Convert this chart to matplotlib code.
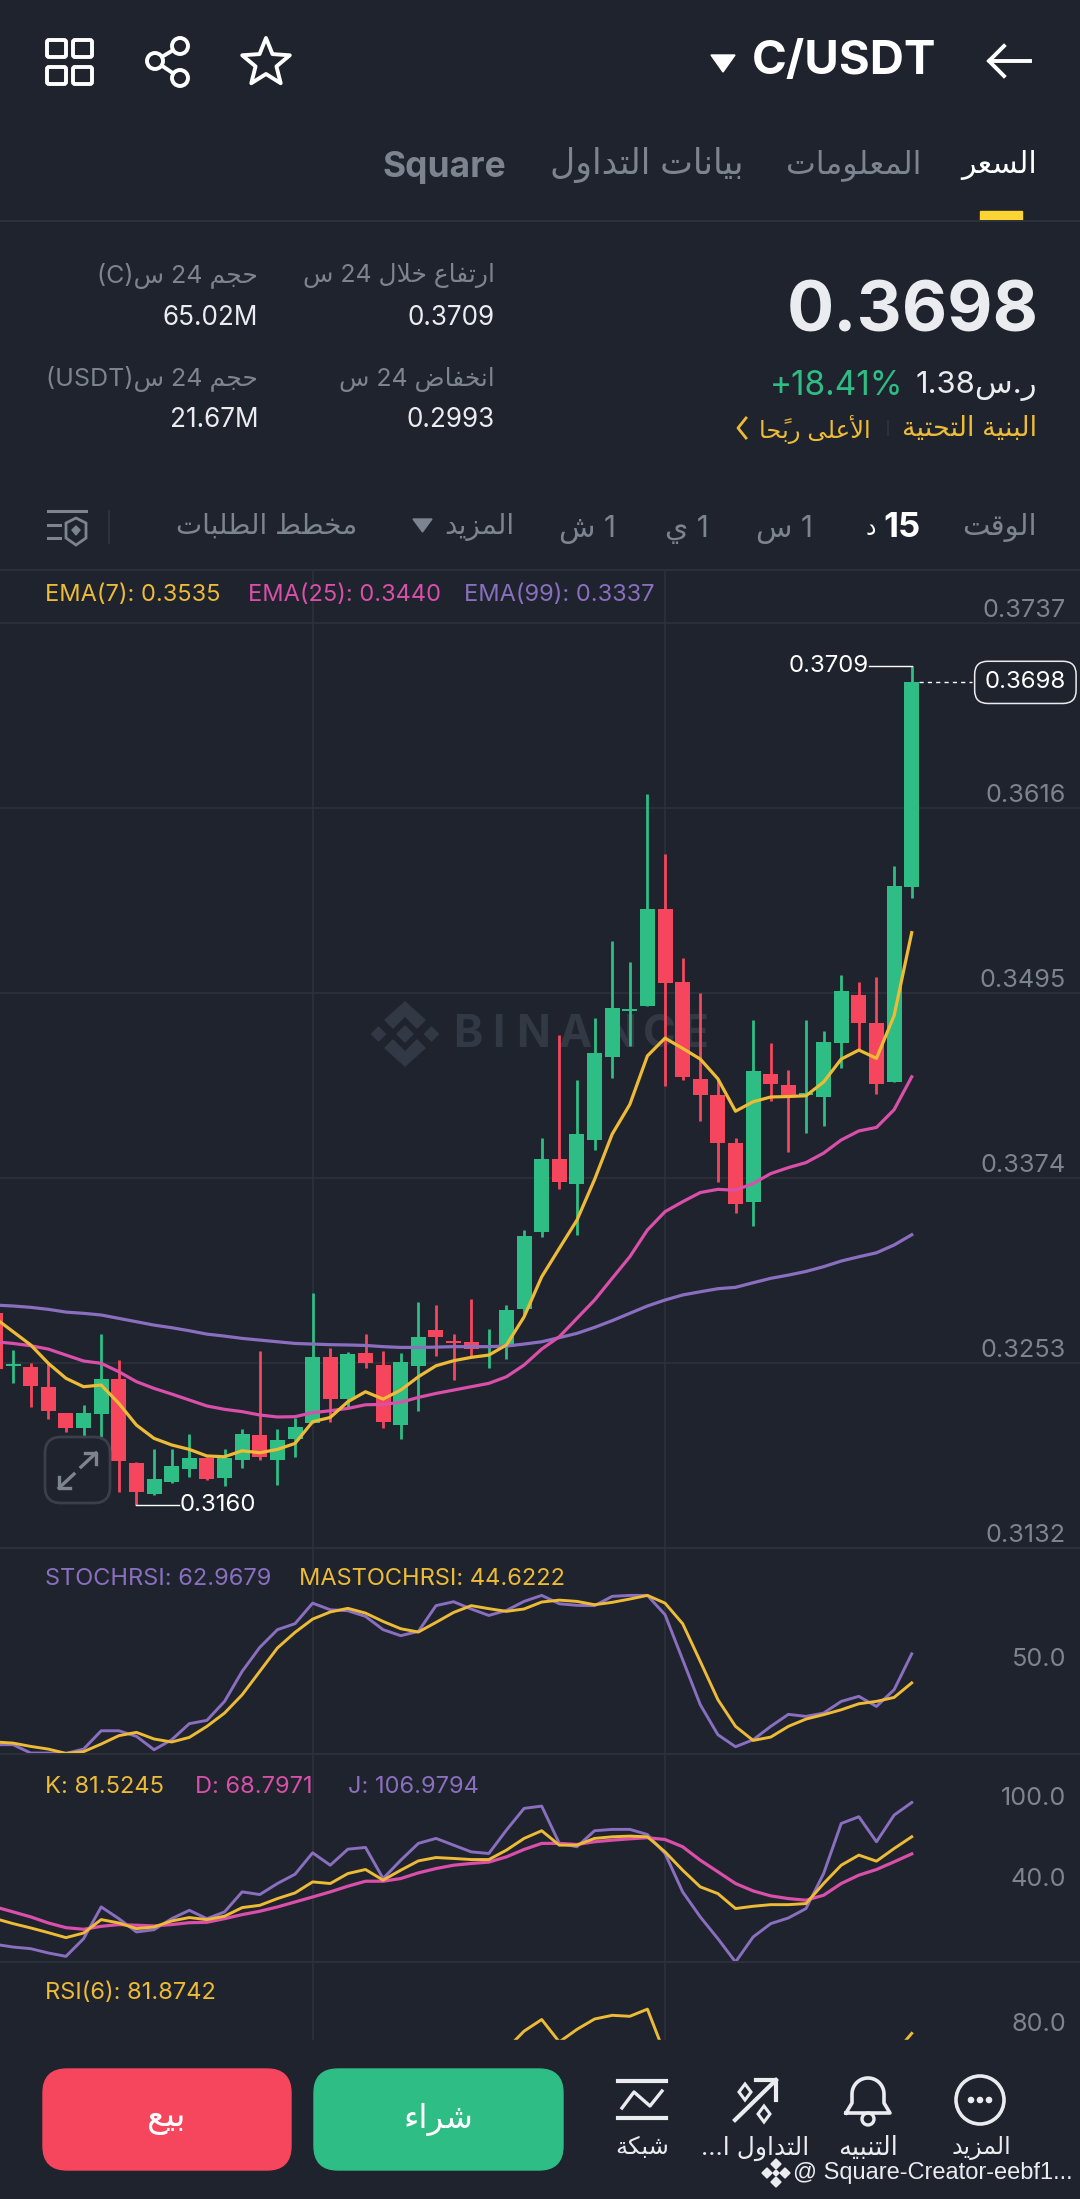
import re
import numpy as np
import matplotlib
matplotlib.use('Agg')
import matplotlib.pyplot as plt
from matplotlib.patches import FancyBboxPatch, Circle, Polygon, Rectangle

plt.rcParams['font.family'] = ['Inter', 'DejaVu Sans']

W, H = 1080, 2199
BG = '#1E232D'
GRID = '#2C313C'
GREEN = '#2EBD85'
RED = '#F6465D'
YELLOW = '#EDBB36'
PINK = '#D94FA9'
PURPLE = '#8A6FC0'
GREY = '#7D838F'
LIGHT = '#EAECEF'

# candles, first one is cut off by the left edge
OPENS = [.32857, .32508, .32504, .32373, .32203, .32103, .32196, .32423, .31872, .31671, .3175, .31837, .31904,
         .31776, .31893, .32055, .31893, .32033, .32138, .32565, .32295, .32595, .32515, .32125, .32506, .32744,
         .32667, .32663, .32625, .32635, .32879, .33387, .33865, .33702, .33989, .34529, .34829, .34862, .35498,
         .35017, .34387, .34278, .33968, .33581, .34418, .34348, .34278, .34271, .34619, .34937, .34749, .34369, .3564]
CLOSES = [.32486, .32513, .32377, .32216, .32103, .32203, .32423, .31885, .31684, .31771, .31854, .31904, .31771,
          .31904, .32063, .31915, .32024, .32111, .32565, .32295, .32587, .32526, .32144, .32532, .32696, .32696,
          .32658, .32619, .3263, .32874, .33358, .33865, .3371, .34025, .34555, .34847, .34835, .35498, .35012,
          .344, .34284, .33968, .33571, .34439, .34351, .34278, .34296, .3463, .3496, .34749, .34351, .35647, .3698]
HIGHS = [.3295, .32613, .32526, .32526, .32203, .32255, .32715, .32547, .31883, .31963, .31963, .32063, .31911,
         .31963, .32094, .32606, .32094, .32166, .32988, .32624, .32602, .32715, .32606, .32595, .32927, .32905,
         .32715, .32946, .32748, .32905, .33398, .33999, .34671, .34379, .34787, .35291, .35149, .36247, .35859,
         .3518, .34947, .34387, .33999, .34769, .34619, .34446, .34769, .34697, .35069, .3502, .35051, .35782, .3709]
LOWS = [.3238, .32395, .32242, .32162, .32077, .32042, .32042, .31684, .31597, .31665, .31741, .31784, .31763,
        .31723, .31843, .31893, .3173, .31915, .32138, .32144, .32242, .32497, .32103, .32033, .32214, .32574,
        .32417, .32569, .32497, .32554, .32845, .33349, .33669, .33367, .33922, .34392, .34599, .34862, .3434,
        .34382, .34108, .3371, .33509, .33421, .34242, .33909, .3403, .34077, .34459, .34581, .34289, .34369, .3557]

EMA7 = [.3282, .32733, .32646, .32526, .32428, .32373, .32384, .32264, .32122, .32035, .31992, .31963, .3192,
        .31915, .31954, .31941, .31963, .32002, .32144, .32172, .32275, .3234, .32292, .32351, .32438, .3251,
        .32543, .32565, .3258, .32646, .3283, .33092, .33278, .33463, .33728, .34025, .34219, .34537, .34653,
        .34586, .34516, .34387, .34175, .34237, .34268, .34271, .34276, .34366, .34516, .34575, .34521, .348, .35343]
EMA25 = [.32667, .32656, .32641, .32619, .3258, .32541, .32526, .32471, .32406, .32362, .32325, .32286, .32247,
         .32225, .3221, .32188, .32175, .32177, .32203, .32216, .32231, .32255, .32257, .32271, .32303, .32329,
         .32351, .32373, .32395, .32438, .32515, .32619, .327, .3282, .3294, .33082, .33223, .33398, .33518,
         .33583, .33643, .33664, .33658, .33702, .33767, .33806, .33839, .33901, .33987, .34046, .34069, .34185, .344]
EMA99 = [.32907, .32901, .32892, .32879, .32861, .32853, .32842, .3282, .32798, .32776, .32759, .32739, .32717,
         .32704, .32689, .32678, .32667, .32656, .32652, .32648, .32646, .32643, .32635, .3263, .3263, .32632,
         .32635, .32635, .32635, .32639, .32652, .32667, .32694, .32722, .32761, .32805, .32853, .32901, .3294,
         .32973, .32994, .33014, .33023, .33053, .33082, .33103, .33127, .33158, .33195, .33223, .33249, .333, .33367]

STOCH = [5.5, 5.5, .2, .2, 0, 2.7, 14.3, 14.3, 10.8, 2.3, 8.6, 18.8, 20.9, 32.9, 51.9, 67.1, 78.3, 82.1, 95.1, 90.9,
         90.3, 86.7, 78.3, 74.5, 77.2, 93.5, 96, 91.4, 87.3, 90.5, 96.2, 100, 94.7, 93.7, 93.5, 99.4, 100, 100, 87.8,
         59.3, 30.8, 11.8, 4.2, 8.6, 17.1, 24.7, 23.4, 25.5, 32.9, 36.1, 29.7, 40.3, 62.97]
MASTOCH = [7.2, 6.5, 4.4, 2.7, 0, 1.1, 5.9, 11.2, 13.3, 9.1, 7.2, 10.1, 17.1, 25.5, 37.1, 51.9, 66.7, 76.6, 85, 89.5,
           91.8, 88.8, 83.5, 78.9, 76.8, 82.9, 89.2, 93.5, 91.6, 89.9, 91.4, 95.8, 97, 96.2, 94.1, 95.6, 97.7, 100,
           95.1, 82.1, 58.2, 34, 17.1, 8.2, 10.3, 17.1, 21.7, 24.5, 27.6, 31.4, 32.9, 35.4, 44.62]
K = [20.7, 17, 13.8, 10.3, 6.6, 10, 20, 17.5, 13.3, 14.5, 19, 21.5, 20, 22.5, 28.9, 30.6, 35.6, 39.8, 48, 46.8, 54.2,
     57.2, 49.3, 56.7, 63.6, 66.1, 65.4, 64.6, 64.6, 71.6, 80.3, 86, 75.3, 75.3, 80.3, 81.5, 82, 81.5, 70.3, 56.7,
     44.3, 39.3, 28.2, 29.9, 31.1, 31.1, 31.9, 46.8, 60.4, 67.9, 63.4, 72.8, 81.52]
D = [29.4, 25.7, 22, 17.5, 14, 12.8, 15, 16.3, 15.8, 15.3, 16.3, 17.7, 18, 20.7, 23.7, 26.2, 29.4, 33.1, 36.8, 40.6,
     44.8, 48.5, 48.5, 50.5, 54.7, 57.9, 60.4, 61.7, 62.7, 66.6, 72.1, 76.6, 76.6, 75.8, 77.8, 79, 80, 80.8, 79.5,
     74.1, 64.1, 55.5, 46.8, 41.3, 37.6, 35.6, 34.4, 38.1, 46.8, 53, 57.2, 62.9, 68.8]
J = [1.6, -.4, -1.6, -4.8, -7.3, 5.8, 29.4, 20.7, 10.8, 12.5, 20.7, 26.9, 20.7, 25.7, 40.6, 38.6, 46.8, 53.7, 69.6,
     60.4, 72.3, 73.6, 50.5, 64.1, 76.6, 80.3, 75.3, 70.3, 69.1, 86.5, 102.6, 104.3, 76.6, 74.1, 86, 87, 87, 83.2,
     69.1, 40.6, 22, 5.8, -11.5, 7.1, 17, 21.2, 28.2, 54.2, 91.4, 96.4, 77.8, 97.6, 106.98]
# only the tail of RSI shows, the rest is under the bottom bar
RSI6 = [75.5, 82.8, 87.5, 78.4, 83.5, 87.7, 89.2, 88.8, 91.7, 73.3, 66, 60, 52, 47, 58, 60, 57, 56, 62, 68, 66, 58,
        73.5, 81.87]
RSI_START = 28

PRICE_TICKS = [.3737, .3616, .3495, .3374, .3253, .3132]
VERTICAL_GRID = [17, 37]

x_idx = np.arange(len(CLOSES)) - 1
X0 = -13.1 / 17.62
X1 = (W - 13.1) / 17.62


def ar(s):
    # matplotlib has no arabic shaping or bidi, so pick the presentation forms and reorder here
    dual = dict(zip('بتثجحخسشصضطظعغفقكلمنهي',
                    [0xFE8F, 0xFE95, 0xFE99, 0xFE9D, 0xFEA1, 0xFEA5, 0xFEB1, 0xFEB5, 0xFEB9, 0xFEBD, 0xFEC1,
                     0xFEC5, 0xFEC9, 0xFECD, 0xFED1, 0xFED5, 0xFED9, 0xFEDD, 0xFEE1, 0xFEE5, 0xFEE9, 0xFEF1]))
    right = dict(zip('آأؤإاةدذرزوى',
                     [0xFE81, 0xFE83, 0xFE85, 0xFE87, 0xFE8D, 0xFE93, 0xFEA9, 0xFEAB, 0xFEAD, 0xFEAF, 0xFEED, 0xFEEF]))
    lam = {'ا': 0xFEFB, 'أ': 0xFEF7, 'إ': 0xFEF9, 'آ': 0xFEF5}
    plain = r'0-9A-Za-z.,%+()'
    parts = []
    for tok in re.findall(r'[' + plain + r']+|\s+|[^' + plain + r'\s]+', s):
        if re.match(r'[' + plain + r'\s]', tok):
            parts.append(tok)
            continue
        letters = [c for c in tok if c != '\u064b']
        marks = {}
        n = 0
        for c in tok:
            if c == '\u064b':
                marks[n - 1] = c
            else:
                n += 1
        out = []
        prev = False
        i = 0
        while i < len(letters):
            c = letters[i]
            nxt = letters[i + 1] if i + 1 < len(letters) else ''
            if c == 'ل' and nxt and nxt in lam:
                out.append(chr(lam[nxt] + (1 if prev else 0)))
                prev = False
                i += 2
                continue
            if c in dual:
                joins = nxt != '' and (nxt in dual or nxt in right)
                off = {(False, False): 0, (True, False): 1, (False, True): 2, (True, True): 3}[(prev, joins)]
                out.append(chr(dual[c] + off) + marks.get(i, ''))
                prev = joins
            elif c in right:
                out.append(chr(right[c] + (1 if prev else 0)))
                prev = False
            else:
                out.append(c)
                prev = False
            i += 1
        parts.append(''.join(reversed(out)))
    return ''.join(reversed(parts))


fig = plt.figure(figsize=(W / 100, H / 100), dpi=100, facecolor=BG)


def px_axes(top, bottom, ylim, z=2):
    a = fig.add_axes([0, 1 - bottom / H, 1, (bottom - top) / H], zorder=z)
    a.set_xlim(X0, X1)
    a.set_ylim(*ylim)
    a.patch.set_alpha(0)
    a.axis('off')
    for v in VERTICAL_GRID:
        a.axvline(v, color=GRID, lw=1.2, zorder=0)
    return a


def tick_label(a, v, s, dy=12):
    a.annotate(s, xy=(1, v), xycoords=a.get_yaxis_transform(), xytext=(-14 * .72, dy * .72),
               textcoords='offset points', ha='right', va='center', color=GREY, fontsize=18.2, annotation_clip=False)


back = fig.add_axes([0, 0, 1, 1], zorder=1)
back.set_xlim(0, W)
back.set_ylim(H, 0)
back.axis('off')
# watermark
MARK = '#333944'
chevron = [(385, 1020), (405, 1002), (425, 1020), (417, 1028), (405, 1016), (393, 1028)]
back.add_patch(Polygon(chevron, color=MARK))
back.add_patch(Polygon([(px, 2068 - py) for px, py in chevron], color=MARK))
for cx, r in [(405, 8), (378.5, 7), (431.5, 7)]:
    back.add_patch(Polygon([(cx - r, 1034), (cx, 1034 - r), (cx + r, 1034), (cx, 1034 + r)], color=MARK))
# the logo text is letter spaced, so one letter at a time
for letter, lx in zip('BINANCE', [468, 498, 533, 576, 619, 659, 695]):
    back.text(lx, 1035, letter, color=MARK, fontsize=32, weight='bold', va='center', ha='center')

# main price panel
ax = px_axes(570, 1547.7, (.3132, .37715))
for v in PRICE_TICKS:
    ax.axhline(v, color=GRID, lw=1.2, zorder=0)
    tick_label(ax, v, '%.4f' % v)

o, c, h, l = map(np.array, (OPENS, CLOSES, HIGHS, LOWS))
cols = np.where(c >= o, GREEN, RED)
ax.vlines(x_idx, l, h, colors=cols, lw=2, zorder=2)
ax.bar(x_idx, np.maximum(np.abs(c - o), .00016), bottom=np.minimum(o, c), width=.85, color=cols, zorder=2)
ax.plot(x_idx, EMA99, color=PURPLE, lw=2.3, zorder=3)
ax.plot(x_idx, EMA25, color=PINK, lw=2.3, zorder=3)
ax.plot(x_idx, EMA7, color=YELLOW, lw=2.3, zorder=3)

# high / low / last price labels
hi_i, lo_i = int(x_idx[np.argmax(h)]), int(x_idx[np.argmin(l)])
ax.plot([hi_i - 2.4, hi_i], [h.max(), h.max()], color='white', lw=1, zorder=4)
ax.text(hi_i - 2.45, h.max(), '%.4f' % h.max(), color='white', fontsize=17.3, ha='right', va='center', zorder=4)
ax.plot([lo_i, lo_i + 2.4], [l.min(), l.min()], color='white', lw=1, zorder=4)
ax.text(lo_i + 2.45, l.min(), '%.4f' % l.min(), color='white', fontsize=17.3, ha='left', va='center', zorder=4)
ax.plot([51.4, 54.4], [c[-1], c[-1]], color='white', lw=1, ls=(0, (3, 3)), zorder=4)
ax.text(57.45, c[-1], '%.4f' % c[-1], color='white', fontsize=17.3, ha='center', va='center', zorder=5,
        bbox=dict(boxstyle='round,pad=0.42,rounding_size=0.55', fc=BG, ec=LIGHT, lw=1.1))

# stoch rsi
ax2 = px_axes(1548, 1754, (-.4, 130))
ax2.plot(x_idx, STOCH, color=PURPLE, lw=2.1)
ax2.plot(x_idx, MASTOCH, color=YELLOW, lw=2.1)
tick_label(ax2, 50, '50.0', dy=14.5)

# kdj
ax3 = px_axes(1754, 1962, (-11.5, 143))
ax3.plot(x_idx, J, color=PURPLE, lw=2.1)
ax3.plot(x_idx, D, color=PINK, lw=2.3)
ax3.plot(x_idx, K, color=YELLOW, lw=2.1)
for v in [100, 40]:
    tick_label(ax3, v, '%.1f' % v, dy=13.5)

# rsi, clipped by the bar below
ax4 = px_axes(1962, 2040, (79.2, 110.8))
ax4.plot(x_idx[RSI_START + 1:], RSI6, color=YELLOW, lw=2.1)
tick_label(ax4, 80, '80.0', dy=13.5)

# everything around the chart, in pixels
ui = fig.add_axes([0, 0, 1, 1], zorder=3)
ui.set_xlim(0, W)
ui.set_ylim(H, 0)
ui.axis('off')


def T(x, y, s, size=17.3, color=GREY, ha='right', weight='normal', **kw):
    ui.text(x, y, s, fontsize=size, color=color, ha=ha, va='center', weight=weight, **kw)


for y in [221, 570, 1548, 1754, 1962]:
    ui.plot([0, W], [y, y], color=GRID, lw=1.4)

# top bar
for px, py in [(47, 40), (73, 40), (47, 67), (73, 67)]:
    ui.add_patch(FancyBboxPatch((px + 2, py + 2), 15, 13, boxstyle='round,pad=2,rounding_size=2', fc='none',
                                ec='white', lw=2.8))
ui.plot([155, 180], [61, 46], color='white', lw=2.8)
ui.plot([155, 180], [61, 78], color='white', lw=2.8)
for px, py in [(180, 46), (155, 61), (180, 78)]:
    ui.add_patch(Circle((px, py), 8, fc=BG, ec='white', lw=2.8, zorder=3))
ang = np.deg2rad(np.arange(-90, 270, 36))
rad = np.where(np.arange(10) % 2 == 0, 25, 11)
ui.add_patch(Polygon(np.c_[266 + rad * np.cos(ang), 63 + rad * np.sin(ang)], fc='none', ec='white', lw=2.8,
                     joinstyle='round'))
ui.add_patch(Polygon([(711, 55), (735, 55), (723, 72)], color='white'))
T(936, 62, 'C/USDT', 34, 'white', weight='bold')
ui.plot([1030, 989, 1004], [61, 61, 46], color='white', lw=2.8, solid_joinstyle='round')
ui.plot([989, 1004], [61, 76], color='white', lw=2.8)

# tabs
T(1037, 165, ar('السعر'), 21.7, 'white')
T(921, 165, ar('المعلومات'), 22.8, GREY)
T(744, 165, ar('بيانات التداول'), 25, GREY)
T(506, 168, 'Square', 25.5, GREY, weight='bold')
ui.add_patch(Rectangle((980, 211), 42, 9, color='#FCD535'))

# stats
T(495, 276, ar('ارتفاع خلال 24 س'), 17.9, GREY)
T(495, 318, '0.3709', 18.8, LIGHT)
T(258, 276, ar('حجم 24 س(C)'), 18, GREY)
T(258, 318, '65.02M', 18.8, LIGHT)
T(495, 379, ar('انخفاض 24 س'), 17.9, GREY)
T(495, 420, '0.2993', 18.8, LIGHT)
T(258, 379, ar('حجم 24 س(USDT)'), 18, GREY)
T(258, 420, '21.67M', 18.8, LIGHT)

T(1039, 313, '0.3698', 50.3, LIGHT, weight='bold')
T(1037, 386, ar('ر.س1.38'), 22.3, LIGHT)
T(903, 386, '+18.41%', 24, GREEN)
T(1037, 429, ar('البنية التحتية'), 19.5, YELLOW)
ui.plot([888, 888], [421, 435], color=GRID, lw=1.5)
T(871, 429, ar('الأعلى ربح\u064bا'), 17.5, YELLOW)
ui.plot([746, 738, 746], [418, 428, 438], color=YELLOW, lw=2)

# interval row
T(1037, 527, ar('الوقت'), 21, GREY)
T(921, 528, '15', 25, 'white', weight='bold')
T(876, 529, ar('د'), 17, 'white')
T(813, 529, ar('1 س'), 21.5, GREY)
T(709, 529, ar('1 ي'), 21.5, GREY)
T(616, 529, ar('1 ش'), 21.5, GREY)
T(514, 527, ar('المزيد'), 20, GREY)
ui.add_patch(Polygon([(413, 519), (432, 519), (422.5, 532)], color=GREY))
T(357, 527, ar('مخطط الطلبات'), 20, GREY)
ui.plot([109, 109], [511, 543], color=GRID, lw=1.5)
ui.plot([48, 86], [511, 511], color=GREY, lw=2.2)
ui.plot([48, 60], [525, 525], color=GREY, lw=2.2)
ui.plot([48, 60], [538, 538], color=GREY, lw=2.2)
ui.add_patch(Polygon([(76, 518), (86, 523), (86, 538), (76, 545), (66, 538), (66, 523)], fc='none', ec=GREY, lw=2))
ui.add_patch(Polygon([(76, 526), (80, 530), (76, 535), (72, 530)], fc=GREY, ec=GREY))

# panel legends
T(45, 595, 'EMA(7): 0.3535', 17, YELLOW, ha='left')
T(248, 595, 'EMA(25): 0.3440', 17, PINK, ha='left')
T(464, 595, 'EMA(99): 0.3337', 17, PURPLE, ha='left')
T(45, 1579, 'STOCHRSI: 62.9679', 17, PURPLE, ha='left')
T(299, 1579, 'MASTOCHRSI: 44.6222', 17, YELLOW, ha='left')
T(45, 1787, 'K: 81.5245', 17, YELLOW, ha='left')
T(195, 1787, 'D: 68.7971', 17, PINK, ha='left')
T(348, 1787, 'J: 106.9794', 17, PURPLE, ha='left')
T(45, 1993, 'RSI(6): 81.8742', 17, YELLOW, ha='left')

# expand button
ui.add_patch(FancyBboxPatch((55, 1447), 45, 46, boxstyle='round,pad=10,rounding_size=16', fc='none', ec='#3A3F4A',
                            lw=2))
ui.plot([59, 74], [1488, 1474], color=GREY, lw=2.4)
ui.plot([59, 59, 70], [1477, 1488, 1488], color=GREY, lw=2.4)
ui.plot([81, 96], [1467, 1453], color=GREY, lw=2.4)
ui.plot([85, 96, 96], [1453, 1453, 1464], color=GREY, lw=2.4)

# bottom bar
ui.add_patch(Rectangle((0, 2040), W, H - 2040, color=BG))
ui.add_patch(FancyBboxPatch((65, 2091), 204, 57, boxstyle='round,pad=22,rounding_size=24', color=RED))
ui.add_patch(FancyBboxPatch((336, 2091), 205, 57, boxstyle='round,pad=22,rounding_size=24', color=GREEN))
T(166, 2119, ar('بيع'), 25, 'white', ha='center')
T(438, 2119, ar('شراء'), 23.5, 'white', ha='center')

ui.plot([618, 666], [2081, 2081], color=LIGHT, lw=3)
ui.plot([618, 666], [2118, 2118], color=LIGHT, lw=3)
ui.plot([622, 634, 650, 662], [2108, 2092, 2106, 2091], color=LIGHT, lw=2.4)
ui.plot([735, 776], [2120, 2080], color=LIGHT, lw=3)
ui.plot([756, 776, 776], [2080, 2080, 2100], color=LIGHT, lw=3)
for px, py in [(745, 2092), (764, 2114)]:
    ui.add_patch(Polygon([(px, py - 8), (px + 6, py), (px, py + 8), (px - 6, py)], fc='none', ec=LIGHT, lw=2.2))
t = np.linspace(np.pi, 2 * np.pi, 30)
bx = np.r_[846, 852, 852 + 16 + 16 * np.cos(t), 884, 890, 846]
by = np.r_[2113, 2103, 2094 + 16 * np.sin(t), 2103, 2113, 2113]
ui.plot(bx, by, color=LIGHT, lw=2.6, solid_joinstyle='round')
ui.add_patch(Circle((868, 2119), 6, fc='none', ec=LIGHT, lw=2.4, zorder=2))
ui.add_patch(Circle((980, 2100), 24, fc='none', ec=LIGHT, lw=2.6))
for dx in [-9, 0, 9]:
    ui.add_patch(Circle((980 + dx, 2100), 2.6, color=LIGHT))
T(642, 2148, ar('شبكة'), 17.5, LIGHT, ha='center')
T(755, 2148, ar('التداول ا...'), 18, LIGHT, ha='center')
T(868, 2148, ar('التنبيه'), 18.5, LIGHT, ha='center')
T(981, 2148, ar('المزيد'), 17, LIGHT, ha='center')

# screenshot watermark
for cx, cy, r in [(776, 2164, 5), (776, 2182, 5), (767, 2173, 5), (785, 2173, 5), (776, 2173, 3)]:
    ui.add_patch(Polygon([(cx - r, cy), (cx, cy - r), (cx + r, cy), (cx, cy + r)], color=LIGHT))
ui.text(1073, 2173, '@ Square-Creator-eebf1...', fontsize=17, color=LIGHT, ha='right', va='center',
        family='Liberation Sans')

fig.savefig('out.png', dpi=100, facecolor=BG)
